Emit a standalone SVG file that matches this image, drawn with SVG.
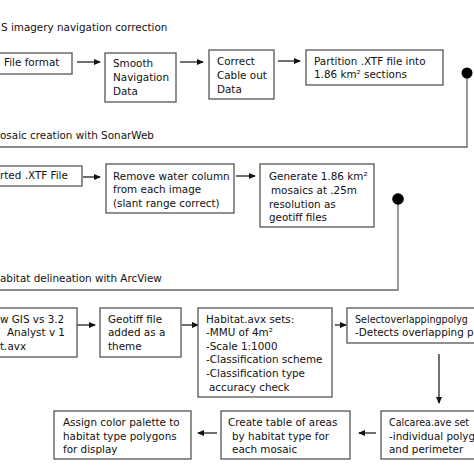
<svg xmlns="http://www.w3.org/2000/svg" width="474" height="474" viewBox="0 0 474 474">
<style>
  text { font-family: "Comic Sans MS", "DejaVu Sans", sans-serif; font-size: 10.4px; fill: #111; }
  text.tight { font-size: 9.6px; }
  .box { fill: #fff; stroke: #555; stroke-width: 1.3; }
  .arr { stroke: #111; stroke-width: 1.2; fill: none; marker-end: url(#ah); }
  .sep { stroke: #666; stroke-width: 1.3; fill: none; }
  .dot { fill: #000; }
</style>
<defs>
  <marker id="ah" markerWidth="7" markerHeight="6" refX="6" refY="3" orient="auto" markerUnits="userSpaceOnUse">
    <path d="M0,0 L7,3 L0,6 Z" fill="#111"/>
  </marker>
</defs>
<rect width="474" height="474" fill="#fff"/>

<g id="titles">
  <text x="1" y="31">S imagery navigation correction</text>
  <text x="0" y="139">osaic creation with SonarWeb</text>
  <text x="0" y="282">abitat delineation with ArcView</text>
</g>

<g id="connectors">
  <polyline class="sep" points="467,73 467,147 0,147"/>
  <circle class="dot" cx="467" cy="73" r="5.5"/>
  <polyline class="sep" points="398,199 398,290 0,290"/>
  <circle class="dot" cx="398" cy="199" r="5.8"/>
  <line class="arr" x1="77" y1="62" x2="100" y2="62"/>
  <line class="arr" x1="180" y1="62" x2="203" y2="62"/>
  <line class="arr" x1="278" y1="61" x2="300" y2="61"/>
  <line class="arr" x1="83" y1="177" x2="100" y2="177"/>
  <line class="arr" x1="236" y1="176" x2="255" y2="176"/>
  <line class="arr" x1="77" y1="325" x2="95" y2="325"/>
  <line class="arr" x1="182" y1="325" x2="198" y2="325"/>
  <line class="arr" x1="335" y1="325" x2="346" y2="325"/>
  <line class="arr" x1="439" y1="354" x2="439" y2="403"/>
  <line class="arr" x1="376" y1="433" x2="359" y2="433"/>
  <line class="arr" x1="217" y1="433" x2="198" y2="433"/>
</g>

<g id="file-format">
  <rect class="box" x="-5" y="53" width="77" height="21"/>
  <text x="4" y="66">File format</text>
</g>
<g id="smooth-nav">
  <rect class="box" x="105" y="53" width="71" height="49"/>
  <text x="113" y="67">Smooth</text>
  <text x="113" y="81">Navigation</text>
  <text x="113" y="95">Data</text>
</g>
<g id="correct-cable">
  <rect class="box" x="209" y="50" width="65" height="49"/>
  <text x="217" y="65">Correct</text>
  <text x="217" y="79">Cable out</text>
  <text x="217" y="93">Data</text>
</g>
<g id="partition">
  <rect class="box" x="306" y="50" width="137" height="35"/>
  <text x="314" y="65">Partition .XTF file into</text>
  <text x="314" y="78">1.86 km² sections</text>
</g>

<g id="xtf-file">
  <rect class="box" x="-5" y="166" width="87" height="20"/>
  <text x="0" y="179">rted .XTF File</text>
</g>
<g id="remove-water">
  <rect class="box" x="106" y="164" width="128" height="49"/>
  <text x="113" y="180">Remove water column</text>
  <text x="113" y="193">from each image</text>
  <text x="113" y="207">(slant range correct)</text>
</g>
<g id="generate-mosaics">
  <rect class="box" x="260" y="164" width="114" height="63"/>
  <text x="269" y="180">Generate 1.86 km²</text>
  <text x="271" y="194">mosaics at .25m</text>
  <text x="269" y="207.5">resolution  as</text>
  <text x="269" y="221">geotiff files</text>
</g>

<g id="arcview">
  <rect class="box" x="-5" y="308" width="82" height="49"/>
  <text x="0" y="323">w GIS vs 3.2</text>
  <text x="7" y="336">Analyst v 1</text>
  <text x="0" y="350">t.avx</text>
</g>
<g id="geotiff">
  <rect class="box" x="100" y="308" width="81" height="49"/>
  <text x="108" y="323">Geotiff file</text>
  <text x="108" y="336">added as a</text>
  <text x="108" y="350">theme</text>
</g>
<g id="habitat-avx">
  <rect class="box" x="198" y="308" width="134" height="89"/>
  <text x="206" y="323">Habitat.avx sets:</text>
  <text x="206" y="336">-MMU of 4m²</text>
  <text x="206" y="350">-Scale 1:1000</text>
  <text x="206" y="363">-Classification scheme</text>
  <text x="206" y="377">-Classification type</text>
  <text x="209" y="391">accuracy check</text>
</g>
<g id="select-overlap">
  <rect class="box" x="347" y="308" width="140" height="35"/>
  <text class="tight" x="355" y="323">Selectoverlappingpolyg</text>
  <text x="355" y="336">-Detects overlapping p</text>
</g>
<g id="calcarea">
  <rect class="box" x="381" y="411" width="106" height="48"/>
  <text class="tight" x="389" y="426">Calcarea.ave set</text>
  <text x="389" y="440">-individual polyg</text>
  <text x="389" y="453">and perimeter</text>
</g>
<g id="create-table">
  <rect class="box" x="221" y="411" width="129" height="48"/>
  <text x="228" y="426">Create table of areas</text>
  <text x="232" y="440">by habitat type for</text>
  <text x="232" y="453">each mosaic</text>
</g>
<g id="assign-color">
  <rect class="box" x="54" y="411" width="137" height="48"/>
  <text x="63" y="426">Assign color palette to</text>
  <text x="63" y="440">habitat type polygons</text>
  <text x="63" y="453">for display</text>
</g>
</svg>
